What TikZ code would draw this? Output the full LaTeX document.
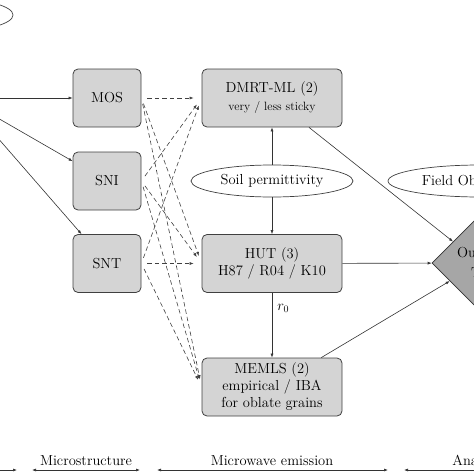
\documentclass[tikz,border=0pt]{standalone}
\usetikzlibrary{shapes.geometric,arrows.meta}
\begin{document}
\begin{tikzpicture}[x=1pt,y=-1pt,
  every node/.style={font=\fontsize{14.5}{17}\selectfont},
  box/.style={draw=black!75, fill=black!17, rounded corners=5pt, line width=0.8pt, minimum height=58pt, inner sep=0pt, align=center},
  mbox/.style={box, minimum width=68pt},
  ebox/.style={box, minimum width=140pt},
  oval/.style={ellipse, draw=black!75, line width=0.7pt, minimum height=32pt, inner sep=0pt},
  tip/.style={Latex[length=4pt,width=3pt]},
  arr/.style={draw=black!80, line width=0.6pt, -{Latex[length=4pt,width=3pt]}},
  darr/.style={arr, draw=black!75, dash pattern=on 4.5pt off 3pt, shorten <=6pt, shorten >=8pt},
  axis/.style={draw=black!80, line width=0.6pt, {Latex[length=4pt,width=3pt]}-{Latex[length=4pt,width=3pt]}},
  lab/.style={anchor=base, inner sep=0pt}
]
\useasboundingbox (0,0) rectangle (474,474);
\clip (0,0) rectangle (474,474);

% nodes
\node[oval, minimum width=118pt] (inp) at (-46,15) {};
\coordinate (src) at (-37,98);
\node[mbox] (mos) at (107,98) {MOS};
\node[mbox] (sni) at (107,181) {SNI};
\node[mbox] (snt) at (107,263.5) {SNT};
\node[ebox] (dmrt) at (272,98) {DMRT-ML (2)\\[1pt]{\fontsize{12}{14}\selectfont very / less sticky}};
\node[ebox] (hut) at (272,263.5) {HUT (3)\\H87 / R04 / K10};
\node[ebox] (memls) at (272,387) {MEMLS (2)\\empirical / IBA\\for oblate grains};
\node[oval, minimum width=162pt] (soil) at (272,181) {Soil permittivity};
\node[oval, minimum width=184pt] (field) at (480,181) {Field Observations};
\node[diamond, draw=black!80, fill=black!35, line width=0.8pt, minimum width=96pt, minimum height=96pt, inner sep=0pt, align=center] (out) at (480,263) {Output\\[3pt]T$_\mathrm{B}$};

% input arrows
\draw[arr] (src) -- (mos);
\draw[arr] (src) -- (sni);
\draw[arr] (src) -- (snt);

% microstructure -> emission models
\foreach \a in {mos,sni,snt}{
  \foreach \b in {dmrt,hut,memls}{
    \draw[darr] (\a.east) -- (\b.west);
  }
}

% soil, chain
\draw[arr] (soil) -- (dmrt);
\draw[arr] (soil) -- (hut);
\draw[arr] (hut) -- node[pos=0.24, anchor=west, inner sep=5pt] (rlab) {$r_0$} (memls);

% to output
\draw[arr] (dmrt) -- (out);
\draw[arr] (hut) -- (out);
\draw[arr] (memls) -- (out);

% bottom axis
\coordinate (a0) at (-40,470); \coordinate (a1) at (17,470);
\coordinate (b0) at (32,470);  \coordinate (b1) at (140,470);
\coordinate (c0) at (157,470); \coordinate (c1) at (388,470);
\coordinate (d0) at (404,470); \coordinate (d1) at (560,470);
\draw[arr] (a0) -- (a1);
\draw[axis] (b0) -- (b1);
\draw[axis] (c0) -- (c1);
\draw[axis] (d0) -- (d1);
\node[lab] (lmicro) at (86,465) {Microstructure};
\node[lab] (lwave) at (272,465) {Microwave emission};
\node[lab] (lana) at (478.5,465) {Analysis};
\end{tikzpicture}
\end{document}
